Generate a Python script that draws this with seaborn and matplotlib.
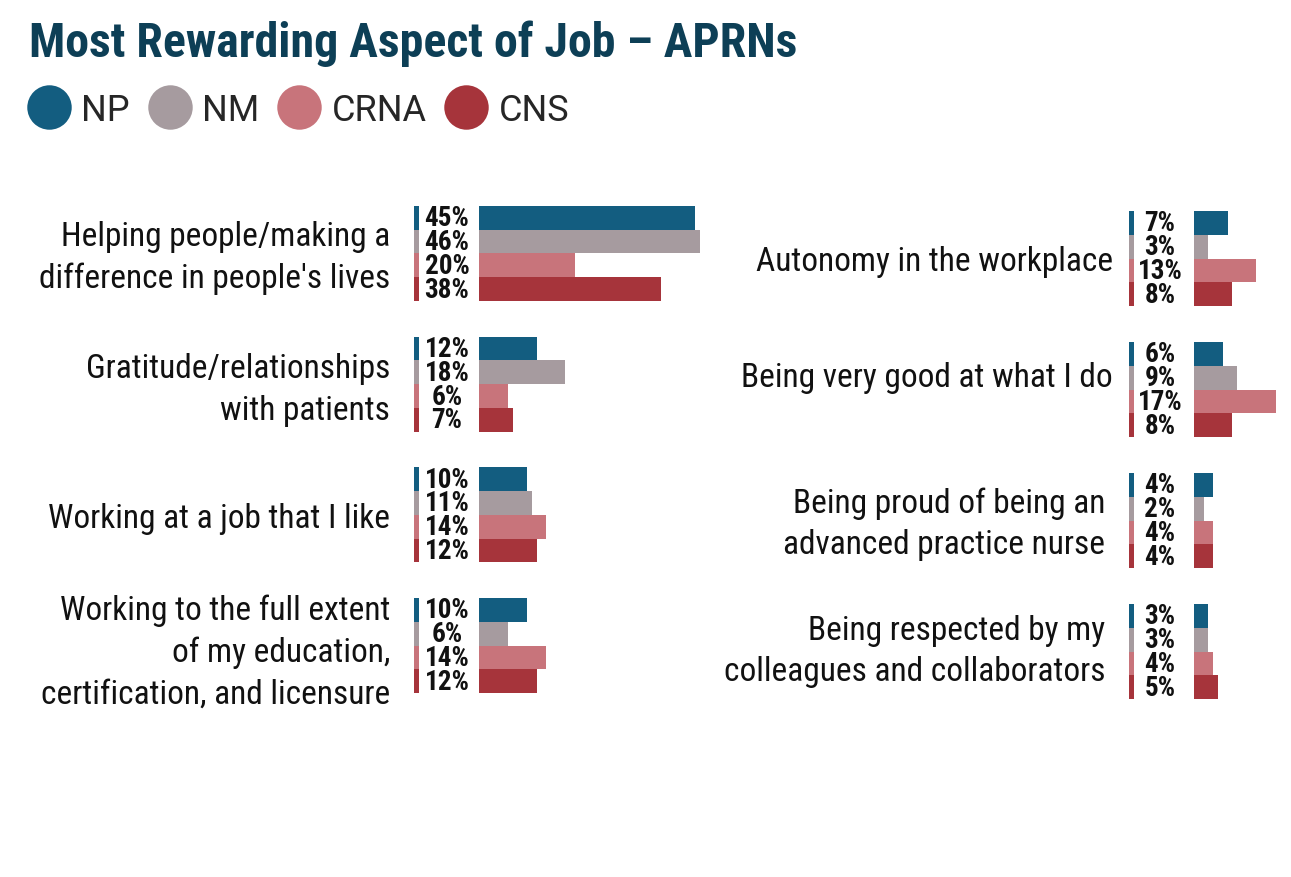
import pandas as pd
import matplotlib.pyplot as plt
import seaborn as sns
from matplotlib.lines import Line2D
from matplotlib.patches import Rectangle
from matplotlib import transforms

# data
groups = ['NP', 'NM', 'CRNA', 'CNS']
colors = ['#135d80', '#a69b9f', '#c8747b', '#a6343b']

left_items = ["Helping people/making a\ndifference in people's lives",
              "Gratitude/relationships\nwith patients",
              "Working at a job that I like",
              "Working to the full extent\nof my education,\ncertification, and licensure"]
left_np = [45, 12, 10, 10]
left_nm = [46, 18, 11, 6]
left_crna = [20, 6, 14, 14]
left_cns = [38, 7, 12, 12]

right_items = ["Autonomy in the workplace",
               "Being very good at what I do",
               "Being proud of being an\nadvanced practice nurse",
               "Being respected by my\ncolleagues and collaborators"]
right_np = [7, 6, 4, 3]
right_nm = [3, 9, 2, 3]
right_crna = [13, 17, 4, 4]
right_cns = [8, 8, 4, 5]


def long_table(items, *series):
    rows = []
    for g, vals in zip(groups, series):
        for it, v in zip(items, vals):
            rows.append({'item': it, 'group': g, 'pct': v})
    return pd.DataFrame(rows)


left_df = long_table(left_items, left_np, left_nm, left_crna, left_cns)
right_df = long_table(right_items, right_np, right_nm, right_crna, right_cns)

sns.set_style('white')
cond = ['Roboto Condensed', 'Roboto', 'DejaVu Sans']
plt.rcParams['font.family'] = cond

W, H = 1291, 878
fig = plt.figure(figsize=(W / 100, H / 100), dpi=100)


def px_axes(x0, x1, y0, y1):
    return fig.add_axes([x0 / W, 1 - y1 / H, (x1 - x0) / W, (y1 - y0) / H])


ax1 = px_axes(479, 479 + 240, 189, 712)
ax2 = px_axes(1194, 1194 + 96, 194, 718)


def draw(ax, df, items, xmax, strip_px, label_px, text_dx, text_dy):
    sns.barplot(data=df, y='item', x='pct', hue='group', order=items,
                hue_order=groups, palette=colors, orient='h', width=0.727,
                gap=0, ax=ax, legend=False, errorbar=None, saturation=1)
    ax.set_xlim(0, xmax)
    ax.set_ylim(3.5, -0.5)
    ax.set_xlabel('')
    ax.set_ylabel('')
    ax.set_xticks([])
    ax.set_yticks([])
    sns.despine(ax=ax, left=True, bottom=True)
    # category labels, right aligned left of the bars (offsets in pixels)
    for i, (it, dx, dy) in enumerate(zip(items, text_dx, text_dy)):
        ax.annotate(it, xy=(0, i), xycoords='data', xytext=(dx * 0.72, -dy * 0.72),
                    textcoords='offset points', ha='right', va='center',
                    fontsize=24, color='#111111', linespacing=1.37,
                    annotation_clip=False)
    axw = ax.get_position().width * W
    blend = transforms.blended_transform_factory(ax.transAxes, ax.transData)
    for bar in list(ax.patches):
        bar.set_edgecolor('none')
        y = bar.get_y()
        h = bar.get_height()
        ax.add_patch(Rectangle((strip_px[0] / axw, y), (strip_px[1] - strip_px[0]) / axw, h,
                               transform=blend, color=bar.get_facecolor(), clip_on=False,
                               lw=0))
        ax.annotate(f"{bar.get_width():.0f}%", xy=(0, y + h / 2), xycoords='data',
                    xytext=(label_px * 0.72, 0), textcoords='offset points',
                    ha='center', va='center', fontsize=19.5, fontweight='bold',
                    color='#111111', annotation_clip=False)


draw(ax1, left_df, left_items, 50, (-65, -60), -32,
     [-89, -89, -89, -89], [4, 5, 3, 6])
draw(ax2, right_df, right_items, 20, (-65, -60), -34,
     [-81, -81, -89, -89], [2, -12, 3, -1])

fig.text(29 / W, 1 - 20 / H, 'Most Rewarding Aspect of Job \u2013 APRNs', ha='left', va='top',
         fontsize=34.5, fontweight='bold', color='#0d3f56')

handles = [Line2D([], [], marker='o', ls='none', markersize=32, markerfacecolor=c,
                  markeredgecolor='none') for c in colors]
fig.legend(handles, groups, loc='center left', bbox_to_anchor=(27 / W, 1 - 111 / H),
           ncol=4, frameon=False, handlelength=1.2, handletextpad=0.3,
           columnspacing=0.5, borderpad=0, borderaxespad=0,
           prop={'family': ['Roboto', 'DejaVu Sans'], 'size': 26})

fig.savefig('out.png', dpi=100, facecolor='white')
